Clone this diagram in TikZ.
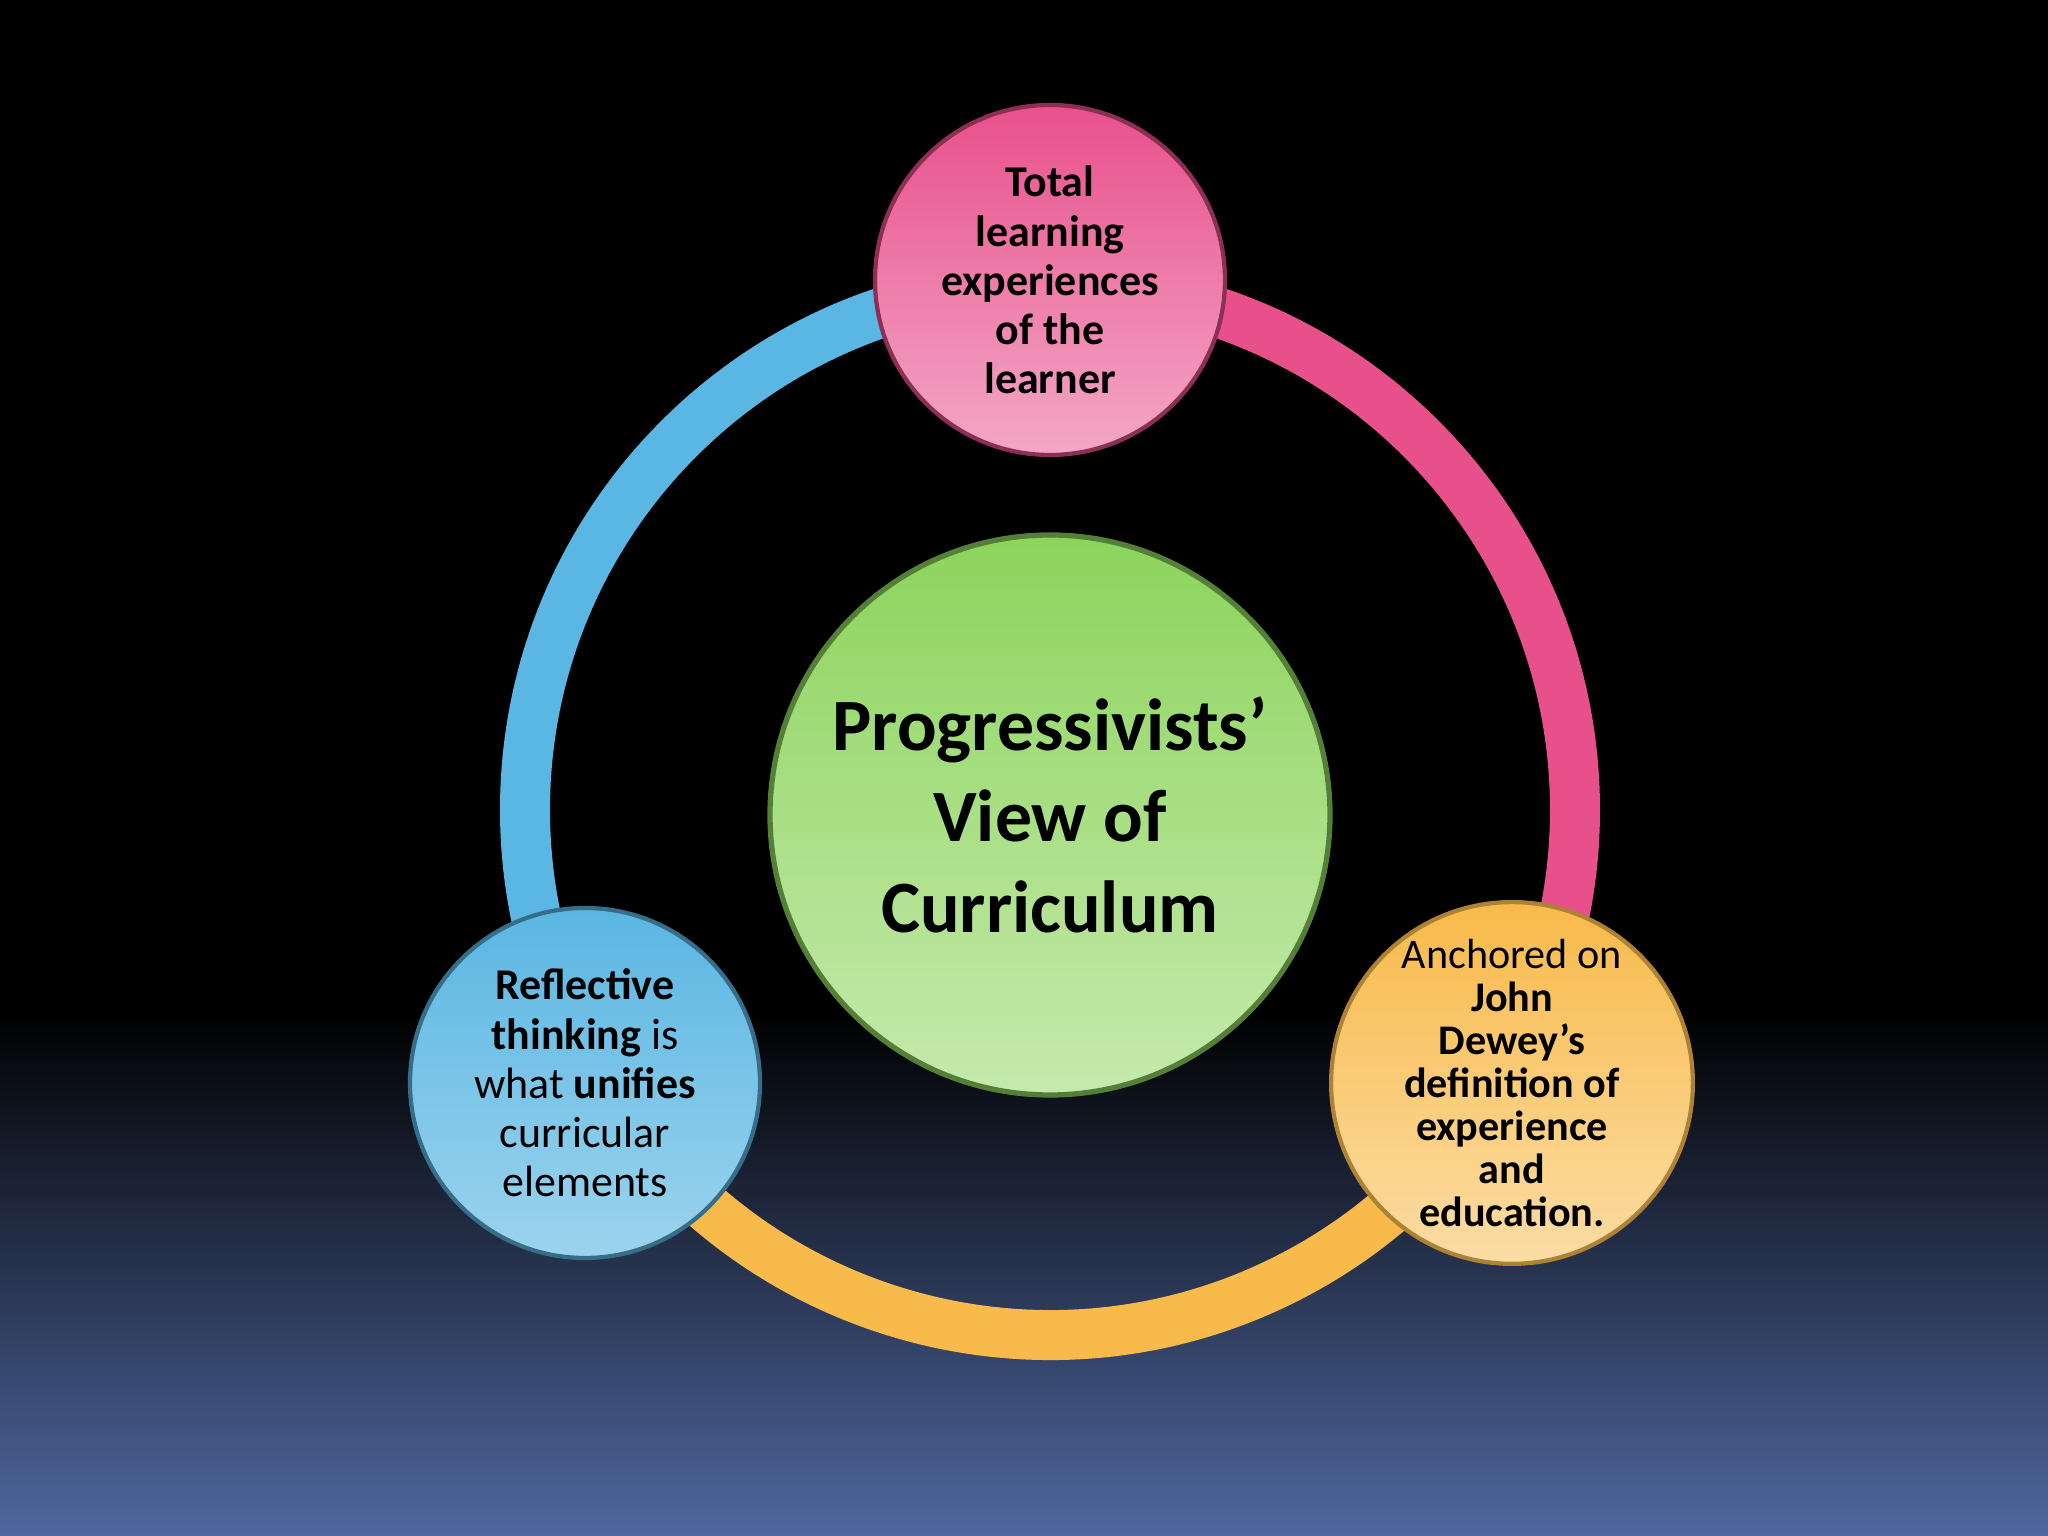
\documentclass[tikz,border=0pt]{standalone}
\usepackage{fontspec}
\setmainfont{Carlito}
\begin{document}
\begin{tikzpicture}
\definecolor{bgblue}{HTML}{5068A0}
\definecolor{ringblue}{HTML}{5AB6E2}
\definecolor{ringpink}{HTML}{E8508C}
\definecolor{ringorange}{HTML}{F8BA4A}
\definecolor{ballgreen}{HTML}{8CD45C}
\tikzset{
 ball/.style={circle,minimum size=3.5cm,inner sep=0pt,align=center,font=\fontsize{12.5}{14}\selectfont,text=black,line width=1.2pt},
 ring/.style={line width=0.5cm}
}
\useasboundingbox (0,0) rectangle (20.48,15.36);
\fill[black] (0,5.2) rectangle (20.48,15.36);
\shade[top color=black,bottom color=bgblue] (0,0) rectangle (20.48,5.25);
\coordinate (c) at (10.5,7.26);
\draw[ring,ringblue] ([shift={(90:5.25)}]c) arc (90:210:5.25);
\draw[ring,ringpink] ([shift={(90:5.25)}]c) arc (90:-30:5.25);
\draw[ring,ringorange] ([shift={(210:5.25)}]c) arc (210:330:5.25);
\node[circle,minimum size=5.6cm,inner sep=0pt,draw=ballgreen!60!black,line width=1.5pt,top color=ballgreen,bottom color=ballgreen!50!white,align=center,font=\fontsize{21}{26}\selectfont\bfseries] (mid) at (10.5,7.21) {Progressivists’\\View of\\Curriculum};
\node[ball,draw=ringpink!60!black,top color=ringpink,bottom color=ringpink!50!white] (top) at (10.5,12.56) {\bfseries Total\\\bfseries learning\\\bfseries experiences\\\bfseries of the\\\bfseries learner};
\node[ball,draw=ringblue!60!black,top color=ringblue,bottom color=ringblue!60!white] (left) at (5.85,4.53) {\textbf{Reflective}\\\textbf{thinking} is\\what \textbf{unifies}\\curricular\\elements};
\node[ball,draw=ringorange!70!black,top color=ringorange,bottom color=ringorange!50!white,font=\fontsize{12}{12.2}\selectfont] (right) at (15.12,4.53) {Anchored on\\\textbf{John}\\\textbf{Dewey’s}\\\textbf{definition of}\\\textbf{experience}\\\textbf{and}\\\textbf{education.}};
\end{tikzpicture}
\end{document}
